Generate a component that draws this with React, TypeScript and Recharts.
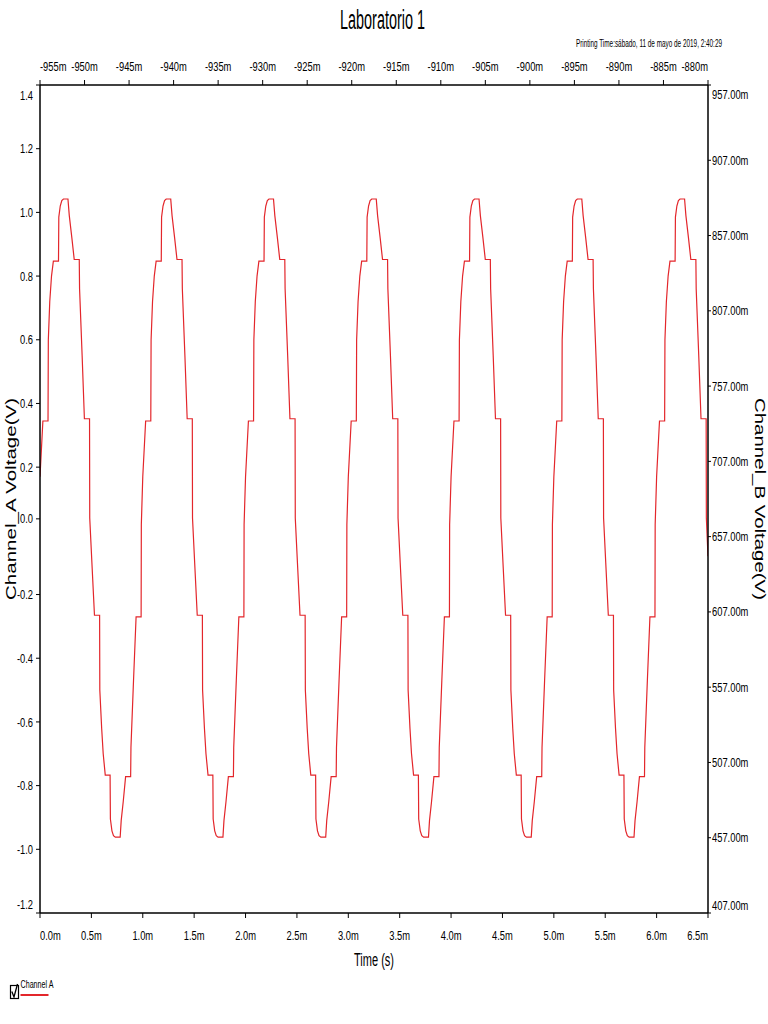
import React from 'react';
import { LineChart, Line, XAxis, YAxis } from 'recharts';

// ---- tick values ----
const TIME_TICKS_MS = [0, 0.5, 1, 1.5, 2, 2.5, 3, 3.5, 4, 4.5, 5, 5.5, 6, 6.5];
const TIME_RANGE_MS = [0, 6.5];
const TOP_TICKS_M = [-955, -950, -945, -940, -935, -930, -925, -920, -915, -910, -905, -900, -895, -890, -885, -880];
const TOP_RANGE_M = [-955, -880]; // top scale value at the left and right edge of the plot
const LEFT_TICKS_V = [-1.2, -1.0, -0.8, -0.6, -0.4, -0.2, 0, 0.2, 0.4, 0.6, 0.8, 1.0, 1.2, 1.4];
const RIGHT_TICKS_MV = [407, 457, 507, 557, 607, 657, 707, 757, 807, 857, 907, 957];

// ---- Channel A trace ----
// the signal repeats every 1 ms; one period is read as (phase in ms, volts)
const CYCLE_STARTS_MS = [0, 1, 2, 3, 4, 5, 6];
const CYCLE_PHASE_MS = [
  0.000, 0.028, 0.078, 0.081, 0.095, 0.112, 0.130, 0.180, 0.183, 0.197, 0.212, 0.228,
  0.272, 0.285, 0.310, 0.333, 0.382, 0.385, 0.410, 0.432, 0.482, 0.484, 0.505, 0.530,
  0.580, 0.582, 0.600, 0.615, 0.635, 0.682, 0.685, 0.700, 0.715, 0.733, 0.780, 0.790,
  0.810, 0.833, 0.882, 0.885, 0.910, 0.935, 0.984, 0.986,
];
const CYCLE_VOLTS = [
  0.17, 0.345, 0.345, 0.60, 0.72, 0.80, 0.847, 0.847, 0.985, 1.020, 1.037, 1.042,
  1.042, 0.990, 0.920, 0.852, 0.852, 0.760, 0.550, 0.352, 0.352, 0.040, -0.100, -0.265,
  -0.265, -0.500, -0.620, -0.700, -0.767, -0.767, -0.905, -0.942, -0.957, -0.962, -0.962, -0.910,
  -0.850, -0.772, -0.772, -0.680, -0.470, -0.270, -0.270, 0.020,
];
const TRACE_END_MS = 6.5;
const TRACE_END_V = -0.08;

const traceData: { t: number; v: number }[] = [];
CYCLE_STARTS_MS.forEach((s) => {
  CYCLE_PHASE_MS.forEach((p, i) => {
    const t = s + p;
    if (t < TRACE_END_MS) traceData.push({ t, v: CYCLE_VOLTS[i] });
  });
});
traceData.push({ t: TRACE_END_MS, v: TRACE_END_V });

// top axis ticks expressed on the time axis (the two scales are linear over the same width)
const topTickPositions = TOP_TICKS_M.map(
  (m) =>
    TIME_RANGE_MS[0] +
    ((m - TOP_RANGE_M[0]) / (TOP_RANGE_M[1] - TOP_RANGE_M[0])) * (TIME_RANGE_MS[1] - TIME_RANGE_MS[0])
);

const TICK_FONT = "'Liberation Sans', Arial, sans-serif";
const LABEL_FONT = "'Liberation Sans', Arial, sans-serif";
const AXIS_LINE = { stroke: '#000', strokeWidth: 1.5 };
const SQUEEZE = 0.72;

const TickText = ({ x, y, anchor, children }: any) => (
  <text
    transform={`translate(${x} ${y}) scale(${SQUEEZE} 1)`}
    x={0}
    y={0}
    textAnchor={anchor}
    dominantBaseline="central"
    fontSize={13}
    fontFamily={TICK_FONT}
    fill="#000"
  >
    {children}
  </text>
);

const BottomTick = (props: any) => {
  const { x, y, payload, index } = props;
  const v = payload.value as number;
  const last = index === TIME_TICKS_MS.length - 1;
  const anchor = index === 0 ? 'start' : last ? 'end' : 'middle';
  return (
    <g>
      <line x1={x} x2={x} y1={y} y2={y + 5} stroke="#000" strokeWidth={1} />
      <TickText x={x} y={y + 22} anchor={anchor}>{`${v.toFixed(1)}m`}</TickText>
    </g>
  );
};

const TopTick = (props: any) => {
  const { x, y, index } = props;
  const last = index === TOP_TICKS_M.length - 1;
  const anchor = index === 0 ? 'start' : last ? 'end' : 'middle';
  return (
    <g>
      <line x1={x} x2={x} y1={y - 5} y2={y} stroke="#000" strokeWidth={1} />
      <TickText x={x} y={y - 19} anchor={anchor}>{`${TOP_TICKS_M[index]}m`}</TickText>
    </g>
  );
};

const LeftTick = (props: any) => {
  const { x, y, payload, index } = props;
  const v = payload.value as number;
  const shift = v === 0 ? -12 : 0;
  let textDy = 0;
  if (index === LEFT_TICKS_V.length - 1) textDy = 10;
  if (index === 0) textDy = -9;
  return (
    <g>
      <line x1={x - 4} x2={x} y1={y + shift} y2={y + shift} stroke="#000" strokeWidth={1} />
      <TickText x={x - 7} y={y + shift + textDy} anchor="end">{v.toFixed(1)}</TickText>
    </g>
  );
};

const RightTick = (props: any) => {
  const { x, y, payload, index } = props;
  const v = payload.value as number;
  let textDy = 0;
  if (index === RIGHT_TICKS_MV.length - 1) textDy = 9;
  if (index === 0) textDy = -8;
  return (
    <g>
      <line x1={x} x2={x + 3} y1={y} y2={y} stroke="#000" strokeWidth={1} />
      <TickText x={x + 4} y={y + textDy} anchor="start">{`${v.toFixed(2)}m`}</TickText>
    </g>
  );
};

export default function App() {
  return (
    <div style={{ position: 'absolute', left: 0, top: 0, width: 768, height: 1024, background: '#fff' }}>
      <LineChart width={768} height={1024} data={traceData} margin={{ top: 0, right: 0, bottom: 0, left: 0 }}>
        <XAxis
          xAxisId="time"
          dataKey="t"
          type="number"
          domain={TIME_RANGE_MS}
          ticks={TIME_TICKS_MS}
          interval={0}
          height={111}
          axisLine={AXIS_LINE}
          tickLine={false}
          tickSize={0}
          tickMargin={0}
          tick={BottomTick}
          allowDataOverflow
        />
        <XAxis
          xAxisId="top"
          dataKey="t"
          orientation="top"
          type="number"
          domain={TIME_RANGE_MS}
          ticks={topTickPositions}
          interval={0}
          height={85}
          axisLine={AXIS_LINE}
          tickLine={false}
          tickSize={0}
          tickMargin={0}
          tick={TopTick}
          allowDataOverflow
        />
        <YAxis
          yAxisId="a"
          type="number"
          domain={[-1.2, 1.4]}
          ticks={LEFT_TICKS_V}
          interval={0}
          width={40}
          axisLine={AXIS_LINE}
          tickLine={false}
          tickSize={0}
          tickMargin={0}
          tick={LeftTick}
          allowDataOverflow
        />
        <YAxis
          yAxisId="b"
          orientation="right"
          type="number"
          domain={[407, 957]}
          ticks={RIGHT_TICKS_MV}
          interval={0}
          width={60}
          axisLine={AXIS_LINE}
          tickLine={false}
          tickSize={0}
          tickMargin={0}
          tick={RightTick}
          allowDataOverflow
        />
        <Line
          xAxisId="time"
          yAxisId="a"
          dataKey="v"
          type="linear"
          stroke="#e3262b"
          strokeWidth={1.2}
          dot={false}
          isAnimationActive={false}
        />
      </LineChart>
      <svg
        width={768}
        height={1024}
        style={{ position: 'absolute', left: 0, top: 0, pointerEvents: 'none' }}
      >
        <text x={382.5} y={29} textAnchor="middle" fontSize={27} fontFamily={LABEL_FONT} textLength={85} lengthAdjust="spacingAndGlyphs" fill="#000">
          Laboratorio 1
        </text>
        <text transform="translate(722 47) scale(0.64 1)" x={0} y={0} textAnchor="end" fontSize={10} fontFamily={LABEL_FONT} fill="#000">
          Printing Time:sábado, 11 de mayo de 2019, 2:40:29
        </text>
        <text x={374} y={966} textAnchor="middle" fontSize={18} fontFamily={LABEL_FONT} textLength={40} lengthAdjust="spacingAndGlyphs" fill="#000">
          Time (s)
        </text>
        <text x={16} y={499} transform="rotate(-90 16 499)" textAnchor="middle" fontSize={15} fontFamily={LABEL_FONT} textLength={202} lengthAdjust="spacingAndGlyphs" fill="#000">
          Channel_A Voltage(V)
        </text>
        <text x={755} y={499} transform="rotate(90 755 499)" textAnchor="middle" fontSize={15} fontFamily={LABEL_FONT} textLength={202} lengthAdjust="spacingAndGlyphs" fill="#000">
          Channel_B Voltage(V)
        </text>
        <rect x={10.5} y={985.5} width={8} height={13} fill="#fff" stroke="#000" strokeWidth={1.2} />
        <path d="M11.8 991.5 L14 997 L17.5 984" fill="none" stroke="#000" strokeWidth={1.3} />
        <text x={20.5} y={987.5} fontSize={10} fontFamily={LABEL_FONT} textLength={33} lengthAdjust="spacingAndGlyphs" fill="#000">
          Channel A
        </text>
        <line x1={20.5} x2={48.5} y1={995} y2={995} stroke="#e3262b" strokeWidth={2} />
      </svg>
    </div>
  );
}
